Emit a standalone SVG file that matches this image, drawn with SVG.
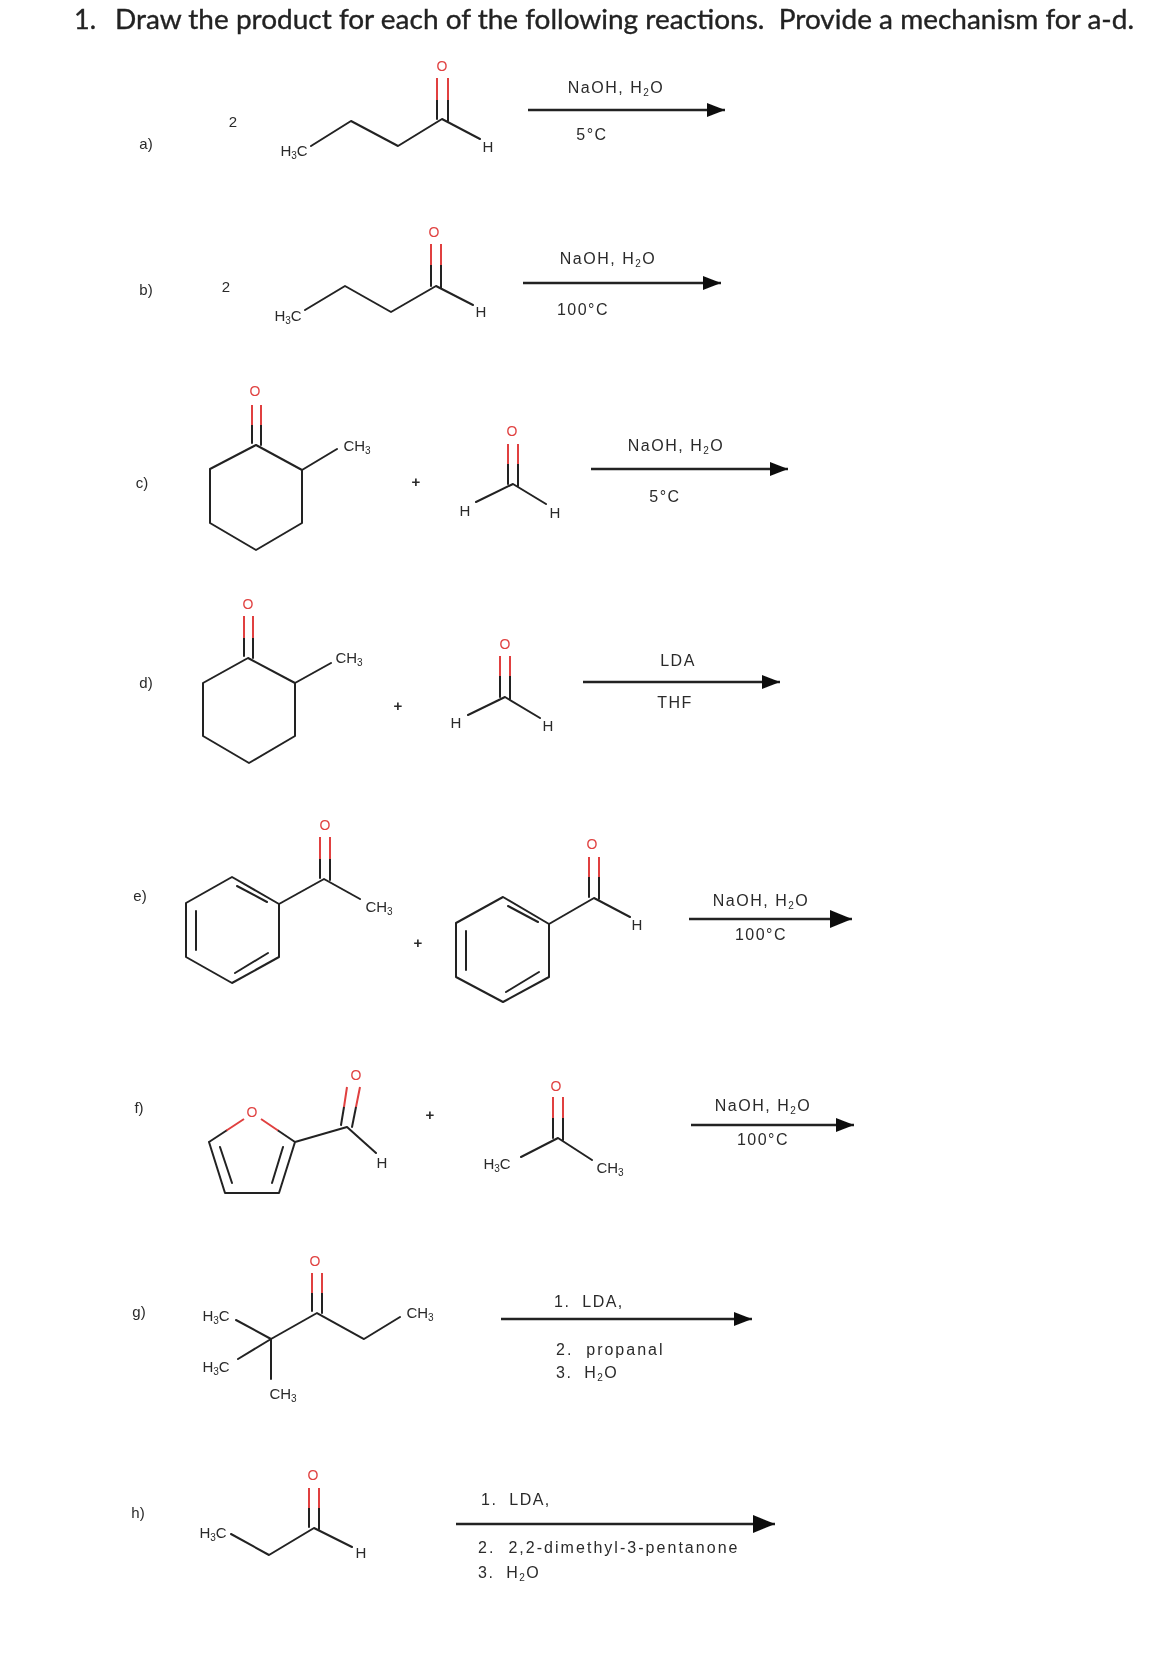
<svg xmlns="http://www.w3.org/2000/svg" width="1170" height="1665" viewBox="0 0 1170 1665">
<defs>
<style>
.b{fill:none;stroke:#222;stroke-width:2;stroke-linejoin:round;stroke-linecap:round}
.r{fill:none;stroke:#e0403f;stroke-width:2}
.a{fill:none;stroke:#222;stroke-width:2.4}
text{font-family:"Liberation Sans",Arial,sans-serif;fill:#2a2a2a;font-size:15px}
.m{text-anchor:middle}
.o{fill:#e0403f;font-size:14px;text-anchor:middle}
.s{font-size:10px}
.rg{font-size:16px;letter-spacing:1.5px}
.t{font-family:Lato,"Open Sans",sans-serif;font-size:27px;fill:#222;stroke:#222;stroke-width:.35}
</style>
<marker id="ah" markerUnits="userSpaceOnUse" markerWidth="20" markerHeight="16" refX="18" refY="8" orient="auto"><path d="M0 1L18 8L0 15Z" fill="#111"/></marker>
<marker id="ahb" markerUnits="userSpaceOnUse" markerWidth="24" markerHeight="20" refX="22" refY="10" orient="auto"><path d="M0 1L22 10L0 19Z" fill="#111"/></marker>
<filter id="soft" x="0" y="0" width="100%" height="100%"><feGaussianBlur stdDeviation="0.7"/></filter>
</defs>
<rect width="1170" height="1665" fill="#fff"/>
<g filter="url(#soft)">
<g id="title">
<text class="t" x="74" y="29">1.</text>
<text class="t" x="115" y="29" textLength="1019" lengthAdjust="spacingAndGlyphs">Draw the product for each of the following reactions.&#160;&#160;Provide a mechanism for a-d.</text>
</g>

<g id="connectors">
<path class="a" marker-end="url(#ah)" d="M528 110H725"/>
<path class="a" marker-end="url(#ah)" d="M523 283H721"/>
<path class="a" marker-end="url(#ah)" d="M591 469H788"/>
<path class="a" marker-end="url(#ah)" d="M583 682H780"/>
<path class="a" marker-end="url(#ahb)" d="M689 919H852"/>
<path class="a" marker-end="url(#ah)" d="M691 1125H854"/>
<path class="a" marker-end="url(#ah)" d="M501 1319H752"/>
<path class="a" marker-end="url(#ahb)" d="M456 1524H775"/>
</g>

<g id="reaction-a">
<text class="m" x="146" y="149">a)</text>
<text class="m" x="233" y="127">2</text>
<path class="b" d="M311 146L351 121L398 146L442 119L480 139M437 119V100M448 121V100"/>
<path class="r" d="M437 100V78M448 100V78"/>
<text class="o" x="442" y="71">O</text>
<text class="m" x="294" y="156">H<tspan class="s" dy="3">3</tspan><tspan dy="-3">C</tspan></text>
<text class="m" x="488" y="152">H</text>
<text class="m rg" x="616" y="93">NaOH, H<tspan class="s" dy="3">2</tspan><tspan dy="-3">O</tspan></text>
<text class="m rg" x="592" y="140">5°C</text>
</g>

<g id="reaction-b">
<text class="m" x="146" y="295">b)</text>
<text class="m" x="226" y="292">2</text>
<path class="b" d="M305 310L345 286L391 312L436 286L473 305M431 286V265M441 288V265"/>
<path class="r" d="M431 265V244M441 265V244"/>
<text class="o" x="434" y="237">O</text>
<text class="m" x="288" y="321">H<tspan class="s" dy="3">3</tspan><tspan dy="-3">C</tspan></text>
<text class="m" x="481" y="317">H</text>
<text class="m rg" x="608" y="264">NaOH, H<tspan class="s" dy="3">2</tspan><tspan dy="-3">O</tspan></text>
<text class="m rg" x="583" y="315">100°C</text>
</g>

<g id="reaction-c">
<text class="m" x="142" y="488">c)</text>
<path class="b" d="M256 445L302 470V523L256 550L210 523V469ZM302 470L337 449M252 443V425M261 445V425"/>
<path class="r" d="M252 425V405M261 425V405"/>
<text class="o" x="255" y="396">O</text>
<text class="m" x="357" y="451">CH<tspan class="s" dy="3">3</tspan></text>
<text class="m" x="416" y="487" font-weight="bold">+</text>
<path class="b" d="M476 502L513 484L546 504M508 484V464M518 486V464"/>
<path class="r" d="M508 464V444M518 464V444"/>
<text class="o" x="512" y="436">O</text>
<text class="m" x="465" y="516">H</text>
<text class="m" x="555" y="518">H</text>
<text class="m rg" x="676" y="451">NaOH, H<tspan class="s" dy="3">2</tspan><tspan dy="-3">O</tspan></text>
<text class="m rg" x="665" y="502">5°C</text>
</g>

<g id="reaction-d">
<text class="m" x="146" y="688">d)</text>
<path class="b" d="M248 658L295 683V736L249 763L203 736V683ZM295 683L331 663M244 656V638M253 658V638"/>
<path class="r" d="M244 638V616M253 638V616"/>
<text class="o" x="248" y="609">O</text>
<text class="m" x="349" y="663">CH<tspan class="s" dy="3">3</tspan></text>
<text class="m" x="398" y="711" font-weight="bold">+</text>
<path class="b" d="M468 715L505 697L540 718M500 697V676M510 699V676"/>
<path class="r" d="M500 676V656M510 676V656"/>
<text class="o" x="505" y="649">O</text>
<text class="m" x="456" y="728">H</text>
<text class="m" x="548" y="731">H</text>
<text class="m rg" x="678" y="666">LDA</text>
<text class="m rg" x="675" y="708">THF</text>
</g>

<g id="reaction-e">
<text class="m" x="140" y="901">e)</text>
<path class="b" d="M232 877L279 904V957L232 983L186 957V903ZM237 886L267 902M196 911V950M235 973L268 953M279 904L324 879L360 899M320 878V859M330 880V859"/>
<path class="r" d="M320 859V837M330 859V837"/>
<text class="o" x="325" y="830">O</text>
<text class="m" x="379" y="912">CH<tspan class="s" dy="3">3</tspan></text>
<text class="m" x="418" y="948" font-weight="bold">+</text>
<path class="b" d="M503 897L549 924V977L503 1002L456 977V923ZM508 906L538 922M466 931V970M506 992L539 972M549 924L594 898L630 917M589 897V877M599 899V877"/>
<path class="r" d="M589 877V857M599 877V857"/>
<text class="o" x="592" y="849">O</text>
<text class="m" x="637" y="930">H</text>
<text class="m rg" x="761" y="906">NaOH, H<tspan class="s" dy="3">2</tspan><tspan dy="-3">O</tspan></text>
<text class="m rg" x="761" y="940">100°C</text>
</g>

<g id="reaction-f">
<text class="m" x="139" y="1113">f)</text>
<path class="b" d="M209 1142L225 1193H279L295 1142M220 1147L232 1183M283 1147L272 1183M295 1142L347 1127L376 1153M341 1125L344 1107M352 1127L356 1107M209 1142L226.500 1130.500M295 1142L278 1130.500"/>
<path class="r" d="M226.500 1130.500L244 1119M278 1130.500L261 1119M344 1107L347 1087M356 1107L360 1087"/>
<text class="o" x="252" y="1117">O</text>
<text class="o" x="356" y="1080">O</text>
<text class="m" x="382" y="1168">H</text>
<text class="m" x="430" y="1120" font-weight="bold">+</text>
<path class="b" d="M521 1157L558 1138L592 1160M553 1138V1118M563 1140V1118"/>
<path class="r" d="M553 1118V1097M563 1118V1097"/>
<text class="o" x="556" y="1091">O</text>
<text class="m" x="497" y="1169">H<tspan class="s" dy="3">3</tspan><tspan dy="-3">C</tspan></text>
<text class="m" x="610" y="1173">CH<tspan class="s" dy="3">3</tspan></text>
<text class="m rg" x="763" y="1111">NaOH, H<tspan class="s" dy="3">2</tspan><tspan dy="-3">O</tspan></text>
<text class="m rg" x="763" y="1145">100°C</text>
</g>

<g id="reaction-g">
<text class="m" x="139" y="1317">g)</text>
<path class="b" d="M236 1320L271 1339L238 1359M271 1339V1379M271 1339L317 1313L364 1339L400 1317M312 1311V1293M322 1313V1293"/>
<path class="r" d="M312 1293V1273M322 1293V1273"/>
<text class="o" x="315" y="1266">O</text>
<text class="m" x="216" y="1321">H<tspan class="s" dy="3">3</tspan><tspan dy="-3">C</tspan></text>
<text class="m" x="216" y="1372">H<tspan class="s" dy="3">3</tspan><tspan dy="-3">C</tspan></text>
<text class="m" x="283" y="1399">CH<tspan class="s" dy="3">3</tspan></text>
<text class="m" x="420" y="1318">CH<tspan class="s" dy="3">3</tspan></text>
<text class="rg" x="554" y="1307">1.&#160;&#160;LDA,</text>
<text class="rg" x="556" y="1355" textLength="108">2.&#160;&#160;propanal</text>
<text class="rg" x="556" y="1378">3.&#160;&#160;H<tspan class="s" dy="3">2</tspan><tspan dy="-3">O</tspan></text>
</g>

<g id="reaction-h">
<text class="m" x="138" y="1518">h)</text>
<path class="b" d="M231 1534L269 1555L314 1528L352 1547M309 1527V1508M319 1529V1508"/>
<path class="r" d="M309 1508V1488M319 1508V1488"/>
<text class="o" x="313" y="1480">O</text>
<text class="m" x="213" y="1538">H<tspan class="s" dy="3">3</tspan><tspan dy="-3">C</tspan></text>
<text class="m" x="361" y="1558">H</text>
<text class="rg" x="481" y="1505">1.&#160;&#160;LDA,</text>
<text class="rg" x="478" y="1553" textLength="261" lengthAdjust="spacing">2.&#160;&#160;2,2-dimethyl-3-pentanone</text>
<text class="rg" x="478" y="1578">3.&#160;&#160;H<tspan class="s" dy="3">2</tspan><tspan dy="-3">O</tspan></text>
</g>
</g>
</svg>
